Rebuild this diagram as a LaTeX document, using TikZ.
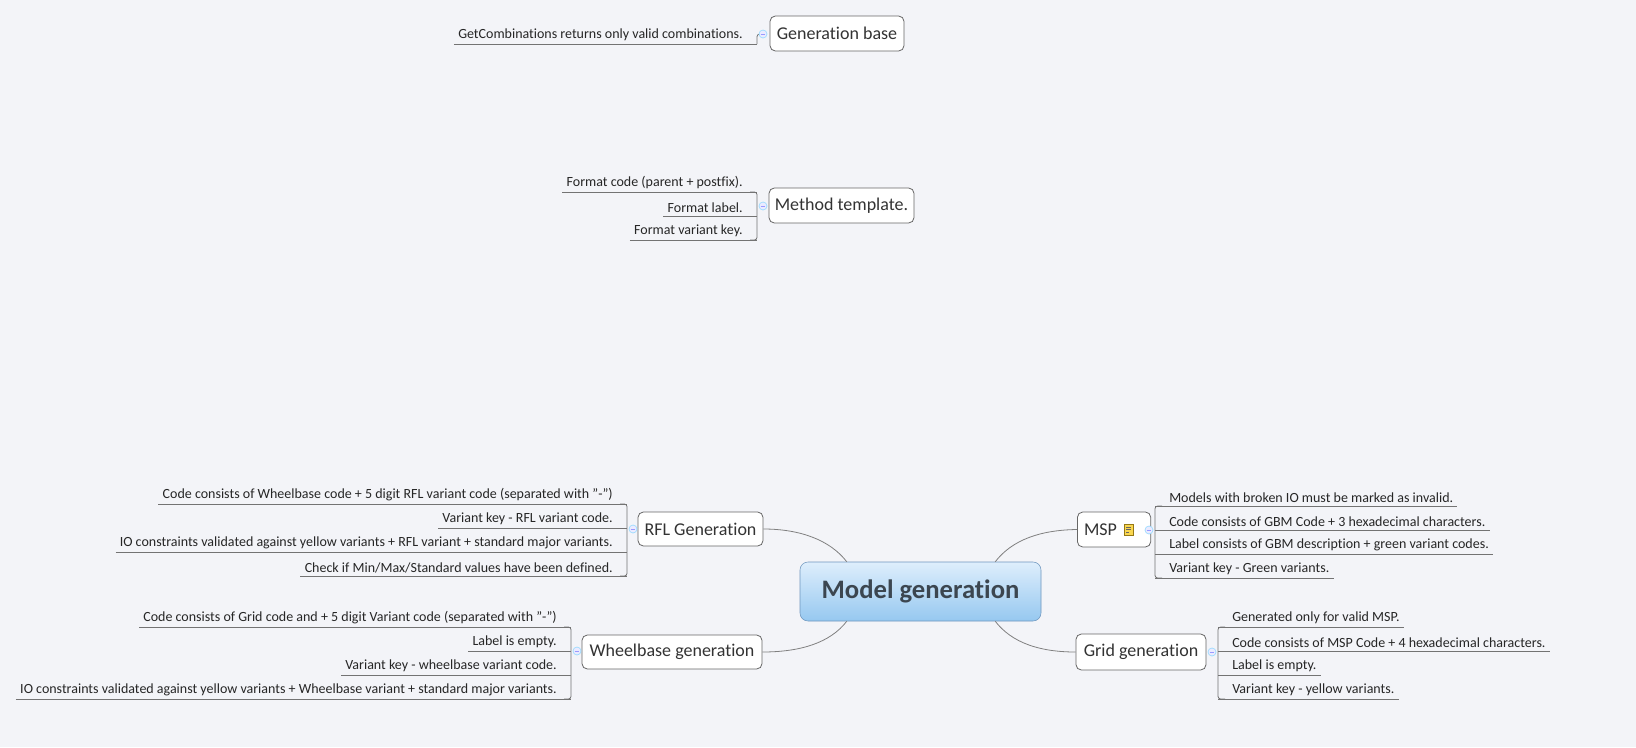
\documentclass[tikz,border=0pt]{standalone}
\usepackage{fontspec}
\setmainfont{Carlito}[Ligatures={NoCommon,NoRare,NoDiscretionary}]
\newcommand\dq{\symbol{34}}
\begin{document}
\begin{tikzpicture}[x=0.75pt,y=-0.75pt,
  leaf/.style={inner xsep=3pt,inner ysep=2pt,font=\fontsize{10.5}{12}\selectfont,text=black!85},
  uline/.style={draw=black!55,line width=0.6pt},
  brk/.style={draw=black!55,line width=0.6pt,rounded corners=2pt},
  topic/.style={draw=black!60,rounded corners=4pt,fill=white,line width=0.6pt,inner sep=0pt,font=\fontsize{13.5}{15}\selectfont,text=black!80},
  conn/.style={draw=black!50,line width=0.6pt},
  knob/.style={circle,draw=blue!35!cyan!40,fill=blue!8,line width=0.5pt,minimum size=6pt,inner sep=0pt}]
\fill[fill={rgb,255:red,243;green,244;blue,248}] (0,0) rectangle (1636,747);
\useasboundingbox (0,0) rectangle (1636,747);
\newcommand\lleaf[4]{\node[leaf,anchor=south east] (#1) at ({#2-10},#3) {#4};\draw[uline] (#1.south west) -- (#2,#3);}
\newcommand\rleaf[4]{\node[leaf,anchor=south west] (#1) at ({#2+10},#3) {#4};\draw[uline] (#2,#3) -- (#1.south east);}
% center
\node[draw={rgb,255:red,110;green,150;blue,190},rounded corners=6pt,minimum width=241*0.75pt,minimum height=59*0.75pt,
  top color={rgb,255:red,222;green,238;blue,252},bottom color={rgb,255:red,150;green,200;blue,240},
  font=\fontsize{20}{22}\bfseries\selectfont,text={rgb,255:red,60;green,70;blue,80}] (c) at (920.5,591.5) {Model generation};
% Generation base
\node[topic,minimum width=134*0.75pt,minimum height=35*0.75pt] (gb) at (837,33.5) {Generation base};
\lleaf{gb1}{757}{44}{GetCombinations returns only valid combinations.}
\draw[brk] (757,44) -- (757,34) -- (764,34);
\node[knob] (gbk) at (763,34) {};
% Method template
\node[topic,minimum width=145*0.75pt,minimum height=35*0.75pt] (mt) at (841.5,205.5) {Method template.};
\lleaf{mt1}{757}{192}{Format code (parent + postfix).}
\lleaf{mt2}{757}{216}{Format label.}
\lleaf{mt3}{757}{240}{Format variant key.}
\draw[brk] (750,192) -- (757,192) -- (757,240) -- (750,240);
\node[knob] (mtk) at (763,206) {};
% RFL
\node[topic,minimum width=125*0.75pt,minimum height=34*0.75pt] (rfl) at (700.5,529) {RFL Generation};
\lleaf{r1}{627}{504}{Code consists of Wheelbase code + 5 digit RFL variant code (separated with \dq-\dq)}
\lleaf{r2}{627}{528}{Variant key - RFL variant code.}
\lleaf{r3}{627}{552}{IO constraints validated against yellow variants + RFL variant + standard major variants.}
\lleaf{r4}{627}{576}{Check if Min/Max/Standard values have been defined.}
\draw[brk] (620,504) -- (627,504) -- (627,576) -- (620,576);
\node[knob] (rk) at (633,529) {};
% Wheelbase
\node[topic,minimum width=180*0.75pt,minimum height=34*0.75pt] (wb) at (672,652) {Wheelbase generation};
\lleaf{w1}{571}{627}{Code consists of Grid code and + 5 digit Variant code (separated with \dq-\dq)}
\lleaf{w2}{571}{651}{Label is empty.}
\lleaf{w3}{571}{675}{Variant key - wheelbase variant code.}
\lleaf{w4}{571}{699}{IO constraints validated against yellow variants + Wheelbase variant + standard major variants.}
\draw[brk] (564,627) -- (571,627) -- (571,699) -- (564,699);
\node[knob] (wk) at (577,651) {};
% MSP
\node[topic,minimum width=65*0.75pt,minimum height=35*0.75pt,anchor=west,text width=60*0.75pt,inner xsep=5pt,align=left] (msp) at (1077,529.5) {MSP};
\node[draw={rgb,255:red,150;green,120;blue,20},fill={rgb,255:red,250;green,215;blue,80},minimum width=7pt,minimum height=8pt,inner sep=0pt,line width=0.5pt] (note) at (1129,530) {};
\draw[black!60,line width=0.4pt] ([xshift=1.5pt,yshift=-2pt]note.north west) -- ++(4pt,0) ([xshift=1.5pt,yshift=-4pt]note.north west) -- ++(4pt,0) ([xshift=1.5pt,yshift=-6pt]note.north west) -- ++(2.5pt,0);
\rleaf{m1}{1155}{506}{Models with broken IO must be marked as invalid.}
\rleaf{m2}{1155}{530}{Code consists of GBM Code + 3 hexadecimal characters.}
\rleaf{m3}{1155}{554}{Label consists of GBM description + green variant codes.}
\rleaf{m4}{1155}{578}{Variant key - Green variants.}
\draw[brk] (1162,506) -- (1155,506) -- (1155,578) -- (1162,578);
\node[knob] (mk) at (1149,530) {};
% Grid
\node[topic,minimum width=130*0.75pt,minimum height=36*0.75pt] (gr) at (1141,652) {Grid generation};
\rleaf{g1}{1218}{627}{Generated only for valid MSP.}
\rleaf{g2}{1218}{651}{Code consists of MSP Code + 4 hexadecimal characters.}
\rleaf{g3}{1218}{675}{Label is empty.}
\rleaf{g4}{1218}{699}{Variant key - yellow variants.}
\draw[brk] (1225,627) -- (1218,627) -- (1218,699) -- (1225,699);
\node[knob] (gk) at (1212,652) {};
% knob minus signs
\foreach \k in {gbk,mtk,rk,wk,mk,gk}{\draw[blue!40,line width=0.5pt] ([xshift=-1.8pt]\k.center) -- ([xshift=1.8pt]\k.center);}
% connectors
\draw[conn] (c.north west)++(47*0.75pt,0) .. controls (830,540) and (800,529) .. (rfl.east);
\draw[conn] (c.south west)++(47*0.75pt,0) .. controls (830,643) and (800,652) .. (wb.east);
\draw[conn] (c.north east)++(-46*0.75pt,0) .. controls (1012,540) and (1040,530) .. (msp.west);
\draw[conn] (c.south east)++(-46*0.75pt,0) .. controls (1012,643) and (1040,652) .. (gr.west);
\end{tikzpicture}
\end{document}
